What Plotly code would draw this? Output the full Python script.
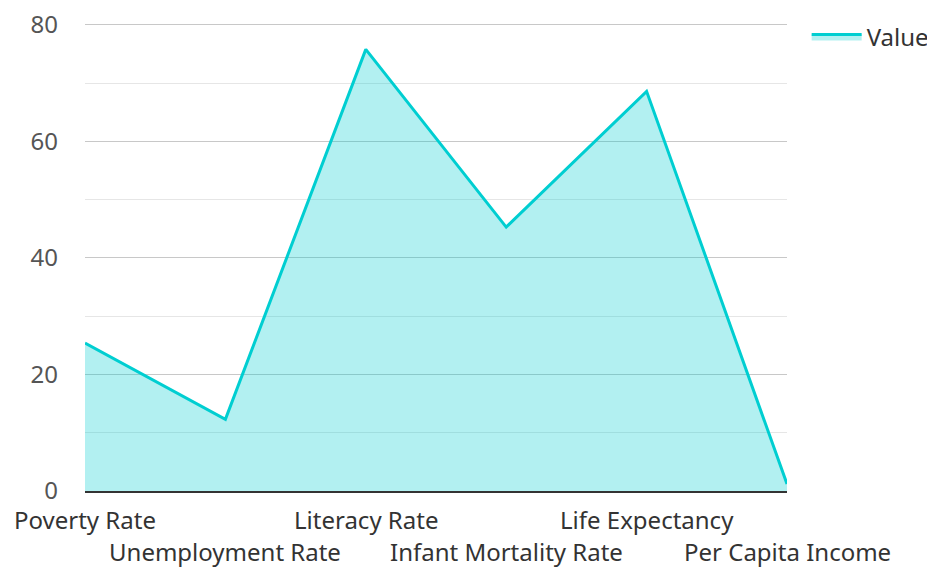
import plotly.graph_objects as go

categories = ["Poverty Rate", "Unemployment Rate", "Literacy Rate",
              "Infant Mortality Rate", "Life Expectancy", "Per Capita Income"]
values = [25.4, 12.3, 75.8, 45.3, 68.6, 1.2]
series_name = "Value"

xs = list(range(len(categories)))

fig = go.Figure()
fig.add_trace(go.Scatter(
    x=xs, y=values, name=series_name,
    mode="lines", fill="tozeroy",
    line=dict(color="#00CED1", width=3),
    fillcolor="rgba(0,206,209,0.3)",
))

font = "Noto Sans, Open Sans, sans-serif"
for i, c in enumerate(categories):
    fig.add_annotation(
        x=xs[i], y=0, xref="x", yref="paper", yanchor="middle",
        yshift=-28 if i % 2 == 0 else -60,
        text=c, showarrow=False,
        font=dict(family=font, size=24, color="#333"),
    )

fig.update_layout(
    width=935, height=567,
    margin=dict(l=77, r=156, t=14, b=84, autoexpand=False),
    paper_bgcolor="white", plot_bgcolor="white",
    font=dict(family=font, size=24, color="#333"),
    showlegend=True,
    legend=dict(x=1.028, y=0.968, xanchor="left", yanchor="middle",
                itemwidth=50,
                font=dict(size=24, color="#333")),
    xaxis=dict(
        tickvals=xs, showticklabels=False, automargin=False,
        range=[0, len(categories) - 1], showgrid=False, zeroline=False,
        showline=True, linecolor="#333", linewidth=2, ticks="",
    ),
    yaxis=dict(
        range=[0, 80.5], tickvals=[0, 20, 40, 60, 80], automargin=False,
        showgrid=True, gridcolor="#c8c8c8", gridwidth=1,
        minor=dict(tickvals=[10, 30, 50, 70], showgrid=True, gridcolor="#e6e6e6", gridwidth=1),
        zeroline=False, showline=False, ticklabeloverflow="allow",
        tickfont=dict(size=24, color="#555"), ticklabelstandoff=26,
    ),
)

fig.write_html("out.html")
